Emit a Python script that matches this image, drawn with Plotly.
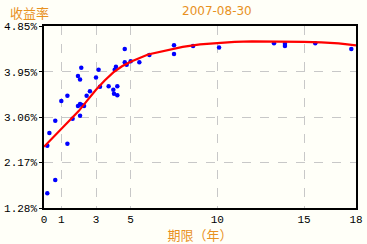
import plotly.graph_objects as go

# Scatter observations (term in years, yield in %)
obs_term = [0.19, 0.65, 0.19, 0.31, 0.65, 1.0, 1.35, 1.35, 1.65, 1.96, 2.08, 2.19, 2.31, 2.08,
            1.96, 2.08, 2.15, 2.46, 2.65, 3.0, 3.15, 3.23, 3.73, 4.0, 4.04, 4.08, 4.15, 4.23,
            4.23, 4.66, 4.66, 4.77, 5.0, 5.5, 6.08, 7.5, 7.5, 8.6, 10.1, 13.27, 13.9, 13.9,
            15.65, 17.73]
obs_yield = [1.57, 1.83, 2.50, 2.75, 2.99, 3.38, 2.54, 3.48, 3.03, 3.28, 3.32, 3.30, 3.28, 3.09,
             3.87, 3.80, 4.03, 3.48, 3.57, 3.84, 3.99, 3.66, 3.67, 3.60, 3.52, 3.99, 4.05, 3.67,
             3.49, 4.40, 4.14, 4.09, 4.16, 4.14, 4.28, 4.47, 4.30, 4.46, 4.43, 4.51, 4.50, 4.46,
             4.51, 4.40]

# Fitted curve
curve_term = [0, 0.5, 1, 1.5, 2, 2.5, 3, 3.5, 4, 4.5, 5, 6, 7, 8, 9, 10, 11, 12, 13, 14, 15, 16, 17, 18]
curve_yield = [2.48, 2.65, 2.82, 2.99, 3.18, 3.39, 3.60, 3.78, 3.94, 4.06, 4.15, 4.29, 4.37, 4.44,
               4.49, 4.52, 4.54, 4.55, 4.55, 4.55, 4.54, 4.53, 4.51, 4.47]

x_ticks = [0, 1, 3, 5, 10, 15, 18]
y_ticks = [1.28, 2.17, 3.06, 3.95, 4.85]
y_tick_labels = ["1.28%", "2.17%", "3.06%", "3.95%", "4.85%"]

orange = "#E8911E"
bg = "#FFFFF8"

fig = go.Figure()
fig.add_trace(go.Scatter(x=obs_term, y=obs_yield, mode="markers",
                         marker=dict(color="#0000FF", size=4.5, line=dict(width=0)),
                         showlegend=False, cliponaxis=True))
fig.add_trace(go.Scatter(x=curve_term, y=curve_yield, mode="lines",
                         line=dict(color="#FF0000", width=2.2),
                         showlegend=False))

fig.update_layout(
    width=367, height=244,
    margin=dict(l=44, r=11, t=26, b=36, autoexpand=False),
    paper_bgcolor=bg, plot_bgcolor=bg,
    font=dict(family="Liberation Mono, DejaVu Sans Mono", size=11, color="#000000"),
    xaxis=dict(range=[0, 18], tickvals=x_ticks, ticktext=[str(v) for v in x_ticks],
               automargin=False,
               showgrid=True, gridcolor="#C8C8C8", griddash="dash", gridwidth=1,
               showline=True, linecolor="#000000", linewidth=1.5, mirror=True,
               ticks="", zeroline=False,
               title=dict(text="期限（年）", font=dict(family="Noto Sans CJK SC", size=13, color=orange),
                          standoff=2)),
    yaxis=dict(range=[1.28, 4.85], tickvals=y_ticks, ticktext=y_tick_labels,
               automargin=False,
               showgrid=True, gridcolor="#C8C8C8", griddash="dash", gridwidth=1,
               showline=True, linecolor="#000000", linewidth=1.5, mirror=True,
               ticks="outside", ticklen=3, tickcolor="#000000", zeroline=False),
    annotations=[
        dict(text="收益率", xref="paper", yref="paper", x=-0.115, y=1.0, yshift=25,
             xanchor="left", yanchor="top", showarrow=False,
             font=dict(family="Noto Sans CJK SC", size=13, color=orange)),
        dict(text="2007-08-30", xref="paper", yref="paper", x=0.554, y=1.0, yshift=24,
             xanchor="center", yanchor="top", showarrow=False,
             font=dict(family="DejaVu Sans", size=12, color=orange)),
    ],
)

fig.write_html("out.html")
